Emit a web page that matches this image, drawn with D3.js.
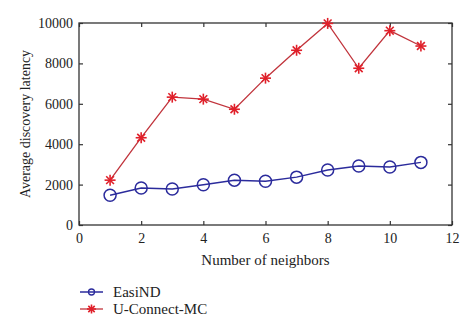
<!DOCTYPE html>
<html><head><meta charset="utf-8">
<script src="https://cdn.jsdelivr.net/npm/d3@7"></script>
<style>body{margin:0;background:#fff}svg{display:block}text{font-family:"Liberation Serif","DejaVu Serif",serif;fill:#222}</style>
</head><body>
<script>
const neighbors = [1,2,3,4,5,6,7,8,9,10,11];
const easiND = [1470,1830,1780,1990,2220,2170,2370,2720,2920,2870,3100];
const uConnectMC = [2220,4320,6330,6230,5730,7270,8650,9980,7760,9620,8860];
const xTicks = [0,2,4,6,8,10,12];
const yTicks = [0,2000,4000,6000,8000,10000];
const seriesNames = ["EasiND","U-Connect-MC"];

const W=474,H=335;
const m={l:79,r:22,t:23,b:110};
const svg=d3.select("body").append("svg").attr("width",W).attr("height",H);
const x=d3.scaleLinear().domain([0,12]).range([m.l,W-m.r]);
const y=d3.scaleLinear().domain([0,10000]).range([H-m.b,m.t]);
const axisCol="#333";
const fs=14;

// box
svg.append("rect").attr("x",x(0)).attr("y",y(10000)).attr("width",x(12)-x(0)).attr("height",y(0)-y(10000))
  .attr("fill","none").attr("stroke",axisCol).attr("stroke-width",1.3);

const ax=svg.append("g").attr("transform",`translate(0,${y(0)})`)
  .call(d3.axisBottom(x).tickValues(xTicks).tickSize(-4).tickPadding(8).tickFormat(d3.format("d")));
const axT=svg.append("g").attr("transform",`translate(0,${y(10000)})`)
  .call(d3.axisTop(x).tickValues(xTicks).tickSize(-4).tickFormat(""));
const ay=svg.append("g").attr("transform",`translate(${x(0)},0)`)
  .call(d3.axisLeft(y).tickValues(yTicks).tickSize(-4).tickPadding(6).tickFormat(d3.format("d")));
const ayR=svg.append("g").attr("transform",`translate(${x(12)},0)`)
  .call(d3.axisRight(y).tickValues(yTicks).tickSize(-4).tickFormat(""));
[ax,axT,ay,ayR].forEach(g=>{
  g.select(".domain").remove();
  g.selectAll(".tick line").attr("stroke",axisCol).attr("stroke-width",1.2);
  g.selectAll("text").attr("font-size",fs).attr("font-family","Liberation Serif").attr("fill","#222");
});

svg.append("text").attr("x",(x(0)+x(12))/2).attr("y",265).attr("text-anchor","middle").attr("font-size",15).text("Number of neighbors");
svg.append("text").attr("transform",`translate(30,${(y(0)+y(10000))/2}) rotate(-90)`).attr("text-anchor","middle").attr("font-size",14).text("Average discovery latency");

const blue="#2b2b9c", redLine="#c1343c", redMk="#e0202a";
const line=d3.line().x((d,i)=>x(neighbors[i])).y(d=>y(d));

function star(g,cx,cy,r,col){
  for(let k=0;k<4;k++){
    const a=k*Math.PI/4;
    g.append("line").attr("x1",cx-r*Math.cos(a)).attr("y1",cy-r*Math.sin(a))
      .attr("x2",cx+r*Math.cos(a)).attr("y2",cy+r*Math.sin(a)).attr("stroke",col).attr("stroke-width",1.6);
  }
}

svg.append("path").datum(uConnectMC).attr("d",line).attr("fill","none").attr("stroke",redLine).attr("stroke-width",1.3);
const gs=svg.append("g");
uConnectMC.forEach((v,i)=>star(gs,x(neighbors[i]),y(v),5.5,redMk));

svg.append("path").datum(easiND).attr("d",line).attr("fill","none").attr("stroke",blue).attr("stroke-width",1.5);
svg.append("g").selectAll("circle").data(easiND).join("circle")
  .attr("cx",(d,i)=>x(neighbors[i])).attr("cy",d=>y(d)).attr("r",6)
  .attr("fill","none").attr("stroke",blue).attr("stroke-width",1.5);

// legend
const lg=svg.append("g");
const ly=[292,309];
lg.append("line").attr("x1",80).attr("x2",103).attr("y1",ly[0]).attr("y2",ly[0]).attr("stroke",blue).attr("stroke-width",1.5);
lg.append("circle").attr("cx",91.5).attr("cy",ly[0]).attr("r",3).attr("fill","none").attr("stroke",blue).attr("stroke-width",1.3);
lg.append("line").attr("x1",80).attr("x2",103).attr("y1",ly[1]).attr("y2",ly[1]).attr("stroke",redLine).attr("stroke-width",1.3);
star(lg,91.5,ly[1],4.5,redMk);
seriesNames.forEach((n,i)=>lg.append("text").attr("x",113).attr("y",ly[i]).attr("dy","0.35em").attr("font-size",15).text(n));
</script>
</body></html>
